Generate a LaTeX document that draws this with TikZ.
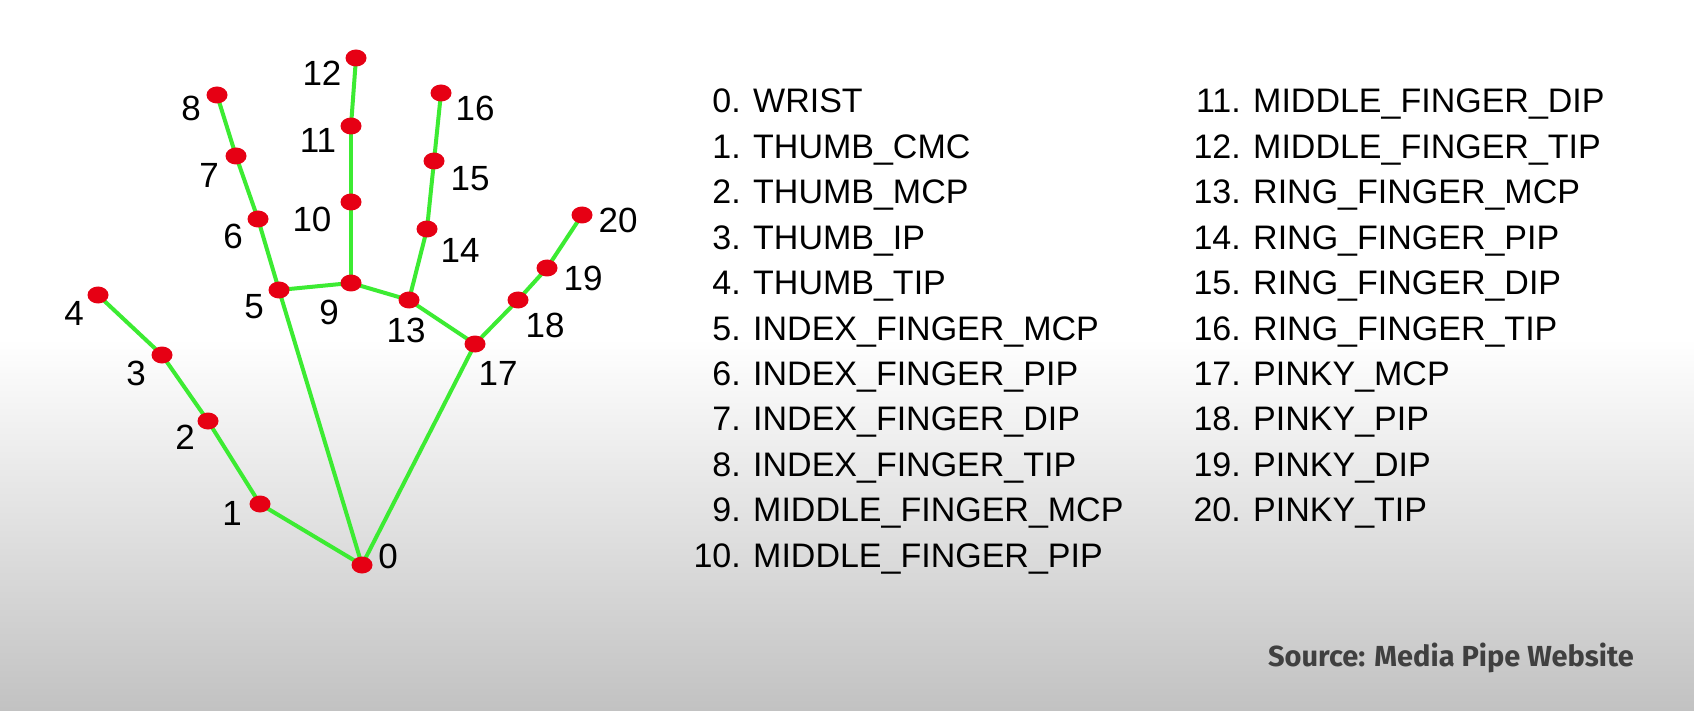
\documentclass[tikz,border=0pt]{standalone}
\usepackage{fontspec}
\setmainfont{Liberation Sans}
\newfontfamily\srcfont{Fira Sans}
\usetikzlibrary{shapes.geometric}
\begin{document}
\begin{tikzpicture}[x=1pt,y=-1pt,
  joint/.style={ellipse,fill={rgb,255:red,230;green,0;blue,20},inner sep=0pt,minimum width=21pt,minimum height=17pt},
  bone/.style={draw={rgb,255:red,60;green,235;blue,50},line width=4pt},
  num/.style={font=\fontsize{35}{35}\selectfont,inner sep=0pt},
  item/.style={font=\fontsize{34}{34}\selectfont,inner sep=0pt,anchor=base west},
  inum/.style={font=\fontsize{34}{34}\selectfont,inner sep=0pt,anchor=base east}]
\useasboundingbox (0,0) rectangle (1694,711);
\fill[white] (0,0) rectangle (1694,340);
\shade[top color=white,bottom color=black!24] (0,339) rectangle (1694,711);
\foreach \n/\x/\y in {0/362/565,1/260/504,2/208/421,3/162/355,4/98/295,5/279/290,6/258/219,7/236/156,8/217/95,9/351/283,10/351/202,11/351/126,12/356/58,13/409/300,14/427/229,15/434/161,16/441/93,17/475/344,18/518/300,19/547/268,20/582/215}
  \coordinate (p\n) at (\x,\y);
\foreach \a/\b in {0/1,1/2,2/3,3/4,0/5,5/6,6/7,7/8,5/9,9/10,10/11,11/12,9/13,13/14,14/15,15/16,13/17,0/17,17/18,18/19,19/20}
  \draw[bone] (p\a) -- (p\b);
\foreach \n in {0,...,20}
  \node[joint] (j\n) at (p\n) {};
\foreach \n/\x/\y in {0/388/556,1/232/513,2/185/437,3/136/373,4/74/313,5/254/307,6/233/236,7/209/175,8/191/108,9/329/312,10/312/219,11/318/140,12/322/73,13/406/330,14/460/250,15/470/179,16/475/108,17/498/373,18/545/325,19/583/278,20/618/220}
  \node[num] (l\n) at (\x,\y) {\n};
\foreach \i/\t in {0/WRIST,1/THUMB\_CMC,2/THUMB\_MCP,3/THUMB\_IP,4/THUMB\_TIP,5/INDEX\_FINGER\_MCP,6/INDEX\_FINGER\_PIP,7/INDEX\_FINGER\_DIP,8/INDEX\_FINGER\_TIP,9/MIDDLE\_FINGER\_MCP,10/MIDDLE\_FINGER\_PIP}{
  \node[inum] (n\i) at (741,{113+45.4*\i}) {\i.};
  \node[item] (t\i) at (753,{113+45.4*\i}) {\t};}
\foreach \i/\t in {11/MIDDLE\_FINGER\_DIP,12/MIDDLE\_FINGER\_TIP,13/RING\_FINGER\_MCP,14/RING\_FINGER\_PIP,15/RING\_FINGER\_DIP,16/RING\_FINGER\_TIP,17/PINKY\_MCP,18/PINKY\_PIP,19/PINKY\_DIP,20/PINKY\_TIP}{
  \node[inum] (n\i) at (1241,{113+45.4*(\i-11)}) {\i.};
  \node[item] (t\i) at (1253,{113+45.4*(\i-11)}) {\t};}
\node[font=\srcfont\bfseries\fontsize{29}{29}\selectfont,text=black!75,anchor=base east,inner sep=0pt] (src) at (1634,666) {Source: Media Pipe Website};
\end{tikzpicture}
\end{document}
